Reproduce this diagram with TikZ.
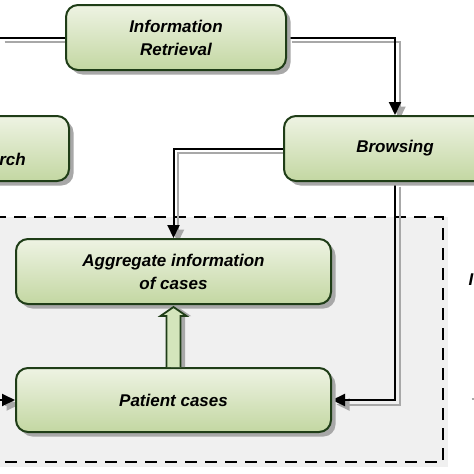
\documentclass[tikz,border=0pt]{standalone}
\usepackage{fontspec}
\setmainfont{Liberation Sans}
\usetikzlibrary{arrows.meta,shadows,calc}
\definecolor{boxborder}{HTML}{1F3D17}
\definecolor{boxtop}{HTML}{EEF3E3}
\definecolor{boxbot}{HTML}{C3D7A2}
\definecolor{shadecol}{HTML}{A8A8A8}
\definecolor{panel}{HTML}{F0F0F0}
\definecolor{hollowfill}{HTML}{D4E5BC}
\pgfdeclarelayer{back}
\pgfdeclarelayer{wires}
\pgfsetlayers{back,wires,main}
\begin{document}
\begin{tikzpicture}[x=1pt,y=-1pt,
  lbl/.style={font=\fontsize{17}{23}\selectfont\bfseries\itshape},
  box/.style={lbl, rounded corners=12pt, draw=boxborder, line width=2pt,
    top color=boxtop, bottom color=boxbot, align=center, inner sep=0pt,
    drop shadow={shadow xshift=4.5pt, shadow yshift=-4.5pt, fill=shadecol, opacity=1}},
  wire/.style={line width=2pt, draw=black},
  wireshadow/.style={line width=2pt, draw=shadecol, transform canvas={xshift=4.5pt,yshift=-4.5pt}},
  tip/.style={-{Triangle[length=13pt,width=12pt]}},
  shadowtip/.style={-{Triangle[length=13pt,width=12pt,fill=shadecol]}},
  panelborder/.style={line width=2pt, dash pattern=on 12pt off 8pt},
  hollow/.style={line width=1.8pt, draw=boxborder, fill=hollowfill, line join=miter},
]
\clip (0,0) rectangle (474,474);

% nodes
\node[box, minimum width=220pt, minimum height=65pt] (IR) at (176,37.5) {Information\\Retrieval};
\node[box, minimum width=222pt, minimum height=65pt] (Brow) at (395,148.5) {Browsing};
\node[box, minimum width=220pt, minimum height=65pt] (Srch) at (-41,148.5) {};
\node[lbl, anchor=base east, inner sep=0pt] (SrchText) at (26,165) {rch};
\node[box, minimum width=315pt, minimum height=65pt] (Agg) at (173.5,271.5) {Aggregate information\\of cases};
\node[box, minimum width=315pt, minimum height=64pt] (Pat) at (173.5,400) {Patient cases};
\node[lbl, anchor=base west, inner sep=0pt] (RightText) at (468.5,285) {I};

% container panel
\begin{pgfonlayer}{back}
  \fill[panel] (-10,217) rectangle (448,467);
  \draw[panelborder] (-10,217) rectangle (443,462);
\end{pgfonlayer}

% connectors
\coordinate (inL) at (0,37.5);
\coordinate (inP) at (0,400);
\coordinate (tickA) at (471.5,399);
\coordinate (tickB) at (474,399);
\begin{pgfonlayer}{wires}
  \draw[wireshadow] (inL) -- (IR.west);
  \draw[wireshadow,shadowtip] (IR.east) -| (Brow.north);
  \draw[wireshadow,shadowtip] (Brow.west) -| (Agg.north);
  \draw[wireshadow,shadowtip] (Brow.south) |- (Pat.east);
  \draw[wireshadow,shadowtip] (inP) -- (Pat.west);
  \draw[wire] (inL) -- (IR.west);
  \draw[wire,tip] (IR.east) -| (Brow.north);
  \draw[wire,tip] (Brow.west) -| (Agg.north);
  \draw[wire,tip] (Brow.south) |- (Pat.east);
  \draw[wire,tip] (inP) -- (Pat.west);
  \draw[line width=1.5pt, draw=shadecol] (tickA) -- (tickB);
\end{pgfonlayer}

% hollow arrow from Patient cases up to Aggregate
\fill[shadecol] ($(Pat.north)+(-2.5,0)$) -- ($(Agg.south)+(-2.5,11)$) -- ($(Agg.south)+(-8.5,11)$)
  -- ($(Agg.south)+(4.5,2)$) -- ($(Agg.south)+(17.5,11)$) -- ($(Agg.south)+(11.5,11)$)
  -- ($(Pat.north)+(11.5,0)$) -- cycle;
\draw[hollow] ($(Pat.north)+(-7,0)$) -- ($(Agg.south)+(-7,11)$) -- ($(Agg.south)+(-13,11)$)
  -- ($(Agg.south)+(0,2)$) -- ($(Agg.south)+(13,11)$) -- ($(Agg.south)+(7,11)$)
  -- ($(Pat.north)+(7,0)$);
\end{tikzpicture}
\end{document}
